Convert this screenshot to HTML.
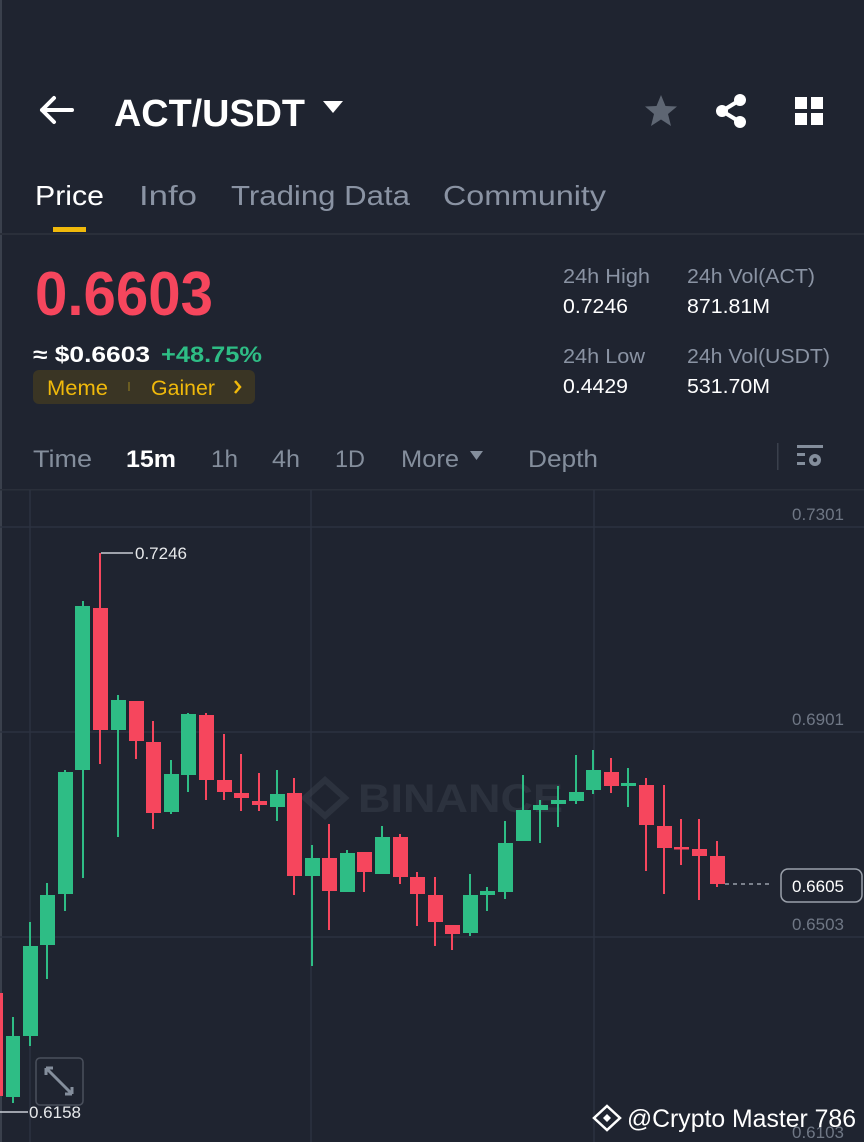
<!DOCTYPE html>
<html><head><meta charset="utf-8"><style>
html,body{margin:0;padding:0;background:#1f2430;}
svg{display:block;font-family:"Liberation Sans",sans-serif;}
</style></head><body>
<svg width="864" height="1142" viewBox="0 0 864 1142" xmlns="http://www.w3.org/2000/svg">
<rect width="864" height="1142" fill="#1f2430"/>
<rect x="0" y="0" width="2" height="1142" fill="#3a404c"/>
<!-- header -->
<path d="M42 110 H72 M42 110 L54 98 M42 110 L54 122" stroke="#fff" stroke-width="4" fill="none" stroke-linecap="round" stroke-linejoin="round"/>
<text x="114" y="126" font-size="38" font-weight="bold" fill="#fff" textLength="191" lengthAdjust="spacingAndGlyphs">ACT/USDT</text>
<path d="M323 101 H343 L333 113 Z" fill="#fff"/>
<path d="M661 95 L665.5 106 L677 106.5 L668 114 L671 126 L661 119.5 L651 126 L654 114 L645 106.5 L656.5 106 Z" fill="#5e6673"/>
<g fill="#fff"><circle cx="740" cy="100" r="6"/><circle cx="722" cy="111" r="6"/><circle cx="740" cy="122" r="6"/></g>
<path d="M740 100 L722 111 L740 122" stroke="#fff" stroke-width="4" fill="none"/>
<g fill="#fff"><rect x="795" y="97" width="12" height="12"/><rect x="811" y="97" width="12" height="12"/><rect x="795" y="113" width="12" height="12"/><rect x="811" y="113" width="12" height="12"/></g>
<!-- tabs -->
<text x="35" y="205" font-size="28" fill="#fff" textLength="69" lengthAdjust="spacingAndGlyphs">Price</text>
<text x="139" y="205" font-size="28" fill="#8a93a3" textLength="58" lengthAdjust="spacingAndGlyphs">Info</text>
<text x="231" y="205" font-size="28" fill="#8a93a3" textLength="179" lengthAdjust="spacingAndGlyphs">Trading Data</text>
<text x="443" y="205" font-size="28" fill="#8a93a3" textLength="163" lengthAdjust="spacingAndGlyphs">Community</text>
<rect x="53" y="227" width="33" height="5" fill="#f0b90b"/>
<rect x="0" y="233" width="864" height="2" fill="#2a2f3a"/>
<!-- price -->
<text x="35" y="315" font-size="62" font-weight="bold" fill="#f6465d" textLength="178" lengthAdjust="spacingAndGlyphs">0.6603</text>
<text x="33" y="362" font-size="22" font-weight="bold" fill="#fff" textLength="117" lengthAdjust="spacingAndGlyphs">≈ $0.6603</text>
<text x="161" y="362" font-size="22" font-weight="bold" fill="#2ebd85" textLength="101" lengthAdjust="spacingAndGlyphs">+48.75%</text>
<rect x="33" y="370" width="222" height="34" rx="6" fill="#3a3524"/>
<text x="47" y="395" font-size="21" fill="#f0b90b" textLength="61" lengthAdjust="spacingAndGlyphs">Meme</text>
<rect x="128" y="382" width="2" height="9" fill="#6b5d22"/>
<text x="151" y="395" font-size="21" fill="#f0b90b" textLength="64" lengthAdjust="spacingAndGlyphs">Gainer</text>
<path d="M235 381 L240 387 L235 393" stroke="#f0b90b" stroke-width="2.5" fill="none"/>
<g font-size="20">
<text x="563" y="283" fill="#8a93a3" textLength="87" lengthAdjust="spacingAndGlyphs">24h High</text>
<text x="563" y="313" fill="#fff" textLength="65" lengthAdjust="spacingAndGlyphs">0.7246</text>
<text x="687" y="283" fill="#8a93a3" textLength="128" lengthAdjust="spacingAndGlyphs">24h Vol(ACT)</text>
<text x="687" y="313" fill="#fff" textLength="83" lengthAdjust="spacingAndGlyphs">871.81M</text>
<text x="563" y="363" fill="#8a93a3" textLength="82" lengthAdjust="spacingAndGlyphs">24h Low</text>
<text x="563" y="393" fill="#fff" textLength="65" lengthAdjust="spacingAndGlyphs">0.4429</text>
<text x="687" y="363" fill="#8a93a3" textLength="143" lengthAdjust="spacingAndGlyphs">24h Vol(USDT)</text>
<text x="687" y="393" fill="#fff" textLength="83" lengthAdjust="spacingAndGlyphs">531.70M</text>
</g>
<!-- interval row -->
<g font-size="24" fill="#848e9c">
<text x="33" y="467" textLength="59" lengthAdjust="spacingAndGlyphs">Time</text>
<text x="126" y="467" fill="#fff" font-weight="bold" textLength="50" lengthAdjust="spacingAndGlyphs">15m</text>
<text x="211" y="467" textLength="27" lengthAdjust="spacingAndGlyphs">1h</text>
<text x="272" y="467" textLength="28" lengthAdjust="spacingAndGlyphs">4h</text>
<text x="335" y="467" textLength="30" lengthAdjust="spacingAndGlyphs">1D</text>
<text x="401" y="467" textLength="58" lengthAdjust="spacingAndGlyphs">More</text>
<text x="528" y="467" textLength="70" lengthAdjust="spacingAndGlyphs">Depth</text>
</g>
<path d="M470 451 H483 L476.5 460 Z" fill="#848e9c"/>
<rect x="777" y="443" width="1.5" height="27" fill="#3a404c"/>
<g fill="#848e9c"><rect x="797" y="445" width="26" height="3"/><rect x="797" y="453" width="8" height="3"/><rect x="797" y="462" width="8" height="3"/><circle cx="815" cy="460" r="6"/></g>
<circle cx="815" cy="460" r="2.2" fill="#1f2430"/>
<rect x="0" y="489" width="864" height="1.5" fill="#2a2f3a"/>
<!-- grid -->
<g stroke="#2c3240" stroke-width="1.5">
<line x1="0" y1="527" x2="864" y2="527"/><line x1="0" y1="732" x2="864" y2="732"/><line x1="0" y1="937" x2="864" y2="937"/>
<line x1="30" y1="490" x2="30" y2="1142"/><line x1="311" y1="490" x2="311" y2="1142"/><line x1="594" y1="490" x2="594" y2="1142"/>
</g>
<g font-size="17" fill="#6f7785">
<text x="792" y="520">0.7301</text><text x="792" y="725">0.6901</text><text x="792" y="930">0.6503</text><text x="792" y="1138">0.6103</text>
</g>
<!-- watermark -->
<g opacity="0.5"><path d="M325 780 L345 798 L325 816 L305 798 Z" fill="none" stroke="#3a404c" stroke-width="6"/>
<text x="358" y="812" font-size="40" font-weight="bold" fill="#3a404c" textLength="205" lengthAdjust="spacingAndGlyphs">BINANCE</text></g>
<!-- candles -->
<g id="c"></g>
<g stroke-width="2">
<!-- x, top, bottom, wickTop, wickBottom, color -->
</g>
<g>
<line x1="-1" y1="985" x2="-1" y2="1100" stroke="#f6465d" stroke-width="2"/><rect x="-6" y="993" width="9" height="103" fill="#f6465d"/>
</g>
<g stroke-width="2" id="cs"></g>
<g stroke="#2ebd85" fill="#2ebd85" stroke-width="2">
<line x1="13" y1="1017" x2="13" y2="1103"/><rect x="6" y="1036" width="14" height="61" stroke="none"/>
<line x1="30" y1="922" x2="30" y2="1046"/><rect x="23" y="946" width="15" height="90" stroke="none"/>
<line x1="47" y1="883" x2="47" y2="979"/><rect x="40" y="895" width="15" height="50" stroke="none"/>
<line x1="65" y1="770" x2="65" y2="911"/><rect x="58" y="772" width="15" height="122" stroke="none"/>
<line x1="83" y1="601" x2="83" y2="878"/><rect x="75" y="606" width="15" height="164" stroke="none"/>
<line x1="118" y1="695" x2="118" y2="837"/><rect x="111" y="700" width="15" height="30" stroke="none"/>
<line x1="171" y1="760" x2="171" y2="814"/><rect x="164" y="774" width="15" height="38" stroke="none"/>
<line x1="188" y1="713" x2="188" y2="792"/><rect x="181" y="714" width="15" height="61" stroke="none"/>
<line x1="277" y1="770" x2="277" y2="821"/><rect x="270" y="794" width="15" height="13" stroke="none"/>
<line x1="312" y1="845" x2="312" y2="966"/><rect x="305" y="858" width="15" height="18" stroke="none"/>
<line x1="347" y1="850" x2="347" y2="892"/><rect x="340" y="853" width="15" height="39" stroke="none"/>
<line x1="382" y1="826" x2="382" y2="874"/><rect x="375" y="837" width="15" height="37" stroke="none"/>
<line x1="470" y1="874" x2="470" y2="936"/><rect x="463" y="895" width="15" height="38" stroke="none"/>
<line x1="487" y1="887" x2="487" y2="911"/><rect x="480" y="891" width="15" height="4" stroke="none"/>
<line x1="505" y1="821" x2="505" y2="899"/><rect x="498" y="843" width="15" height="49" stroke="none"/>
<line x1="523" y1="775" x2="523" y2="841"/><rect x="516" y="810" width="15" height="31" stroke="none"/>
<line x1="540" y1="800" x2="540" y2="843"/><rect x="533" y="805" width="15" height="5" stroke="none"/>
<line x1="558" y1="786" x2="558" y2="827"/><rect x="551" y="800" width="15" height="4" stroke="none"/>
<line x1="576" y1="755" x2="576" y2="804"/><rect x="569" y="792" width="15" height="9" stroke="none"/>
<line x1="593" y1="750" x2="593" y2="794"/><rect x="586" y="770" width="15" height="20" stroke="none"/>
<line x1="628" y1="768" x2="628" y2="807"/><rect x="621" y="783" width="15" height="3" stroke="none"/>
</g>
<g stroke="#f6465d" fill="#f6465d" stroke-width="2">
<line x1="100" y1="553" x2="100" y2="764"/><rect x="93" y="608" width="15" height="122" stroke="none"/>
<line x1="136" y1="701" x2="136" y2="759"/><rect x="129" y="701" width="15" height="40" stroke="none"/>
<line x1="153" y1="721" x2="153" y2="829"/><rect x="146" y="742" width="15" height="71" stroke="none"/>
<line x1="206" y1="713" x2="206" y2="800"/><rect x="199" y="715" width="15" height="65" stroke="none"/>
<line x1="224" y1="734" x2="224" y2="800"/><rect x="217" y="780" width="15" height="12" stroke="none"/>
<line x1="241" y1="754" x2="241" y2="811"/><rect x="234" y="793" width="15" height="5" stroke="none"/>
<line x1="259" y1="773" x2="259" y2="811"/><rect x="252" y="801" width="15" height="4" stroke="none"/>
<line x1="294" y1="778" x2="294" y2="895"/><rect x="287" y="793" width="15" height="83" stroke="none"/>
<line x1="329" y1="824" x2="329" y2="930"/><rect x="322" y="858" width="15" height="33" stroke="none"/>
<line x1="364" y1="852" x2="364" y2="892"/><rect x="357" y="852" width="15" height="20" stroke="none"/>
<line x1="400" y1="834" x2="400" y2="884"/><rect x="393" y="837" width="15" height="40" stroke="none"/>
<line x1="417" y1="872" x2="417" y2="926"/><rect x="410" y="877" width="15" height="17" stroke="none"/>
<line x1="435" y1="877" x2="435" y2="946"/><rect x="428" y="895" width="15" height="27" stroke="none"/>
<line x1="452" y1="925" x2="452" y2="950"/><rect x="445" y="925" width="15" height="9" stroke="none"/>
<line x1="611" y1="758" x2="611" y2="793"/><rect x="604" y="772" width="15" height="14" stroke="none"/>
<line x1="646" y1="778" x2="646" y2="871"/><rect x="639" y="785" width="15" height="40" stroke="none"/>
<line x1="664" y1="785" x2="664" y2="894"/><rect x="657" y="826" width="15" height="22" stroke="none"/>
<line x1="681" y1="819" x2="681" y2="865"/><rect x="674" y="847" width="15" height="2.5" stroke="none"/>
<line x1="699" y1="819" x2="699" y2="900"/><rect x="692" y="849" width="15" height="7" stroke="none"/>
<line x1="717" y1="841" x2="717" y2="887"/><rect x="710" y="856" width="15" height="28" stroke="none"/>
</g>
<!-- annotations -->
<path d="M101 553 H133" stroke="#c8ccd4" stroke-width="1.5"/>
<text x="135" y="559" font-size="17" fill="#e6e8ea">0.7246</text>
<path d="M0 1112 H28" stroke="#c8ccd4" stroke-width="1.5"/>
<text x="29" y="1118" font-size="17" fill="#e6e8ea">0.6158</text>
<path d="M725 884 H772" stroke="#9aa0aa" stroke-width="1.5" stroke-dasharray="4 4"/>
<rect x="781" y="869" width="81" height="33" rx="7" fill="#1f2430" stroke="#9aa0aa" stroke-width="1.5"/>
<text x="792" y="892" font-size="17" fill="#fff">0.6605</text>
<rect x="36" y="1058" width="47" height="47" rx="4" fill="none" stroke="#4a505c" stroke-width="1.5"/>
<path d="M46 1068 L72 1094 M46 1068 h7 M46 1068 v7 M72 1094 h-7 M72 1094 v-7" stroke="#848e9c" stroke-width="3" fill="none"/>
<!-- bottom watermark -->
<path d="M607 1106 L620 1118 L607 1130 L594 1118 Z" fill="none" stroke="#fff" stroke-width="2.5"/>
<path d="M607 1114 L611 1118 L607 1122 L603 1118 Z" fill="#fff"/>
<text x="627" y="1127" font-size="25" fill="#fff" textLength="229" lengthAdjust="spacingAndGlyphs">@Crypto Master 786</text>
</svg>
</body></html>
